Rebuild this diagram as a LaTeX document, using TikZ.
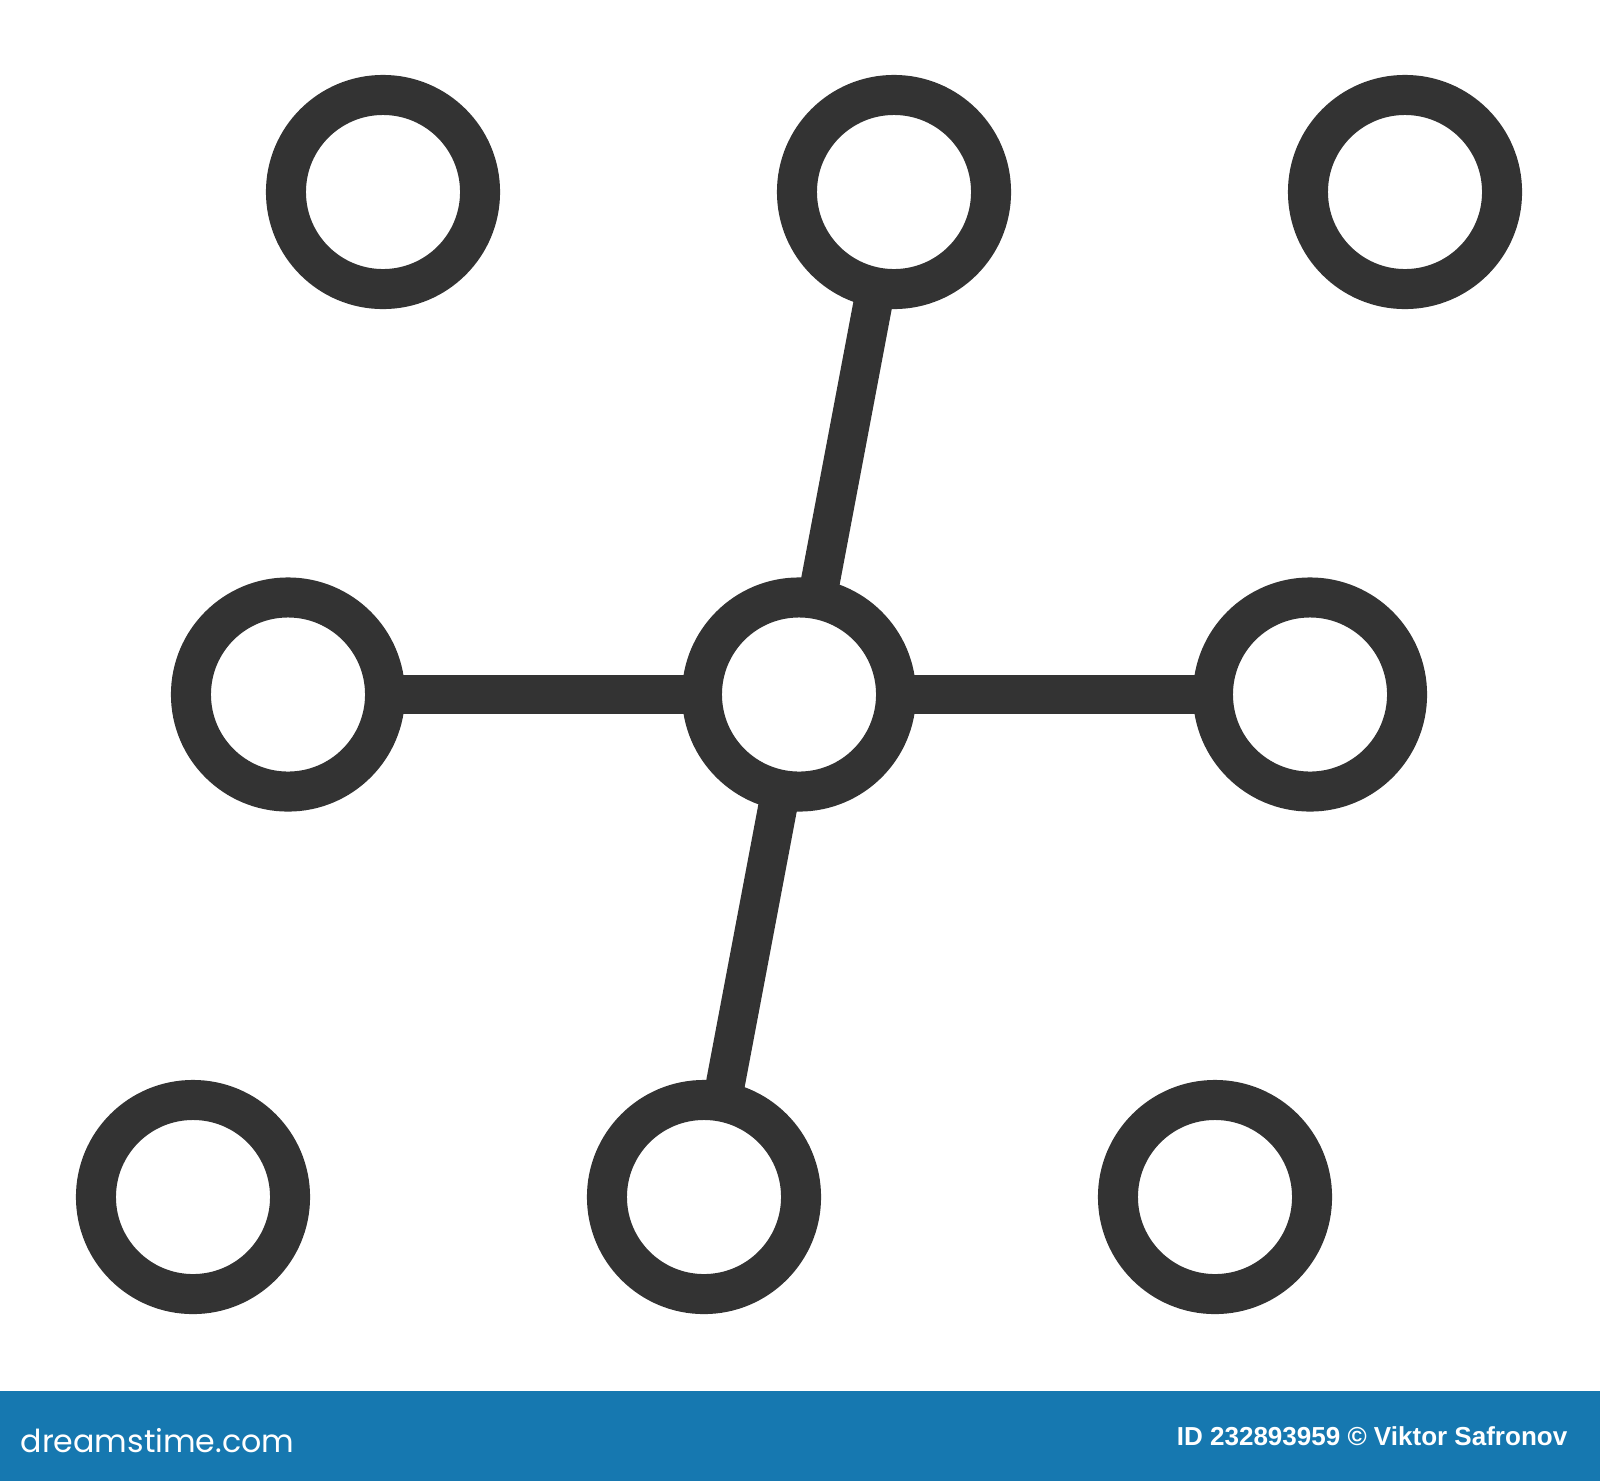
\documentclass[tikz,border=0pt]{standalone}
\usepackage{fontspec}
\newfontfamily\logofont{Poppins}
\newfontfamily\idfont{Liberation Sans}
\definecolor{ringgray}{HTML}{333333}
\definecolor{barblue}{HTML}{1678B0}

\def\colsep{511}
\def\rowsep{502.5}
\def\rowshift{95}

\begin{document}
\begin{tikzpicture}[x=0.01cm,y=-0.01cm]
	\tikzstyle{ring}=[circle,draw=ringgray,line width=0.4cm,minimum size=1.94cm,inner sep=0pt,outer sep=0pt]
	\tikzstyle{link}=[draw=ringgray,line width=0.39cm]
	\tikzstyle{bartext}=[text=white,inner sep=0pt]

	\useasboundingbox (0,0) rectangle (1600,1481);

	% Draw the 3x3 grid of rings
	\foreach \r in {1,2,3}
	\foreach \c in {1,2,3}
	\node[ring] (N-\r-\c) at ({383+\colsep*(\c-1)-\rowshift*(\r-1)},{192+\rowsep*(\r-1)}) {};

	% Connect the centre ring with its four neighbours
	\foreach \dest in {N-2-1,N-2-3,N-1-2,N-3-2}
	\path[link] (N-2-2) -- (\dest);

	% Footer band
	\fill[barblue] (0,1391) rectangle (1600,1481);
	\node[bartext,anchor=base west,font=\logofont\fontsize{9}{11}\selectfont] (logo) at (20,1452) {dreamstime.com};
	\node[bartext,anchor=base east,font=\idfont\bfseries\fontsize{7.4}{9}\selectfont] (credit) at (1568,1445) {ID 232893959 © Viktor Safronov};
\end{tikzpicture}
\end{document}
